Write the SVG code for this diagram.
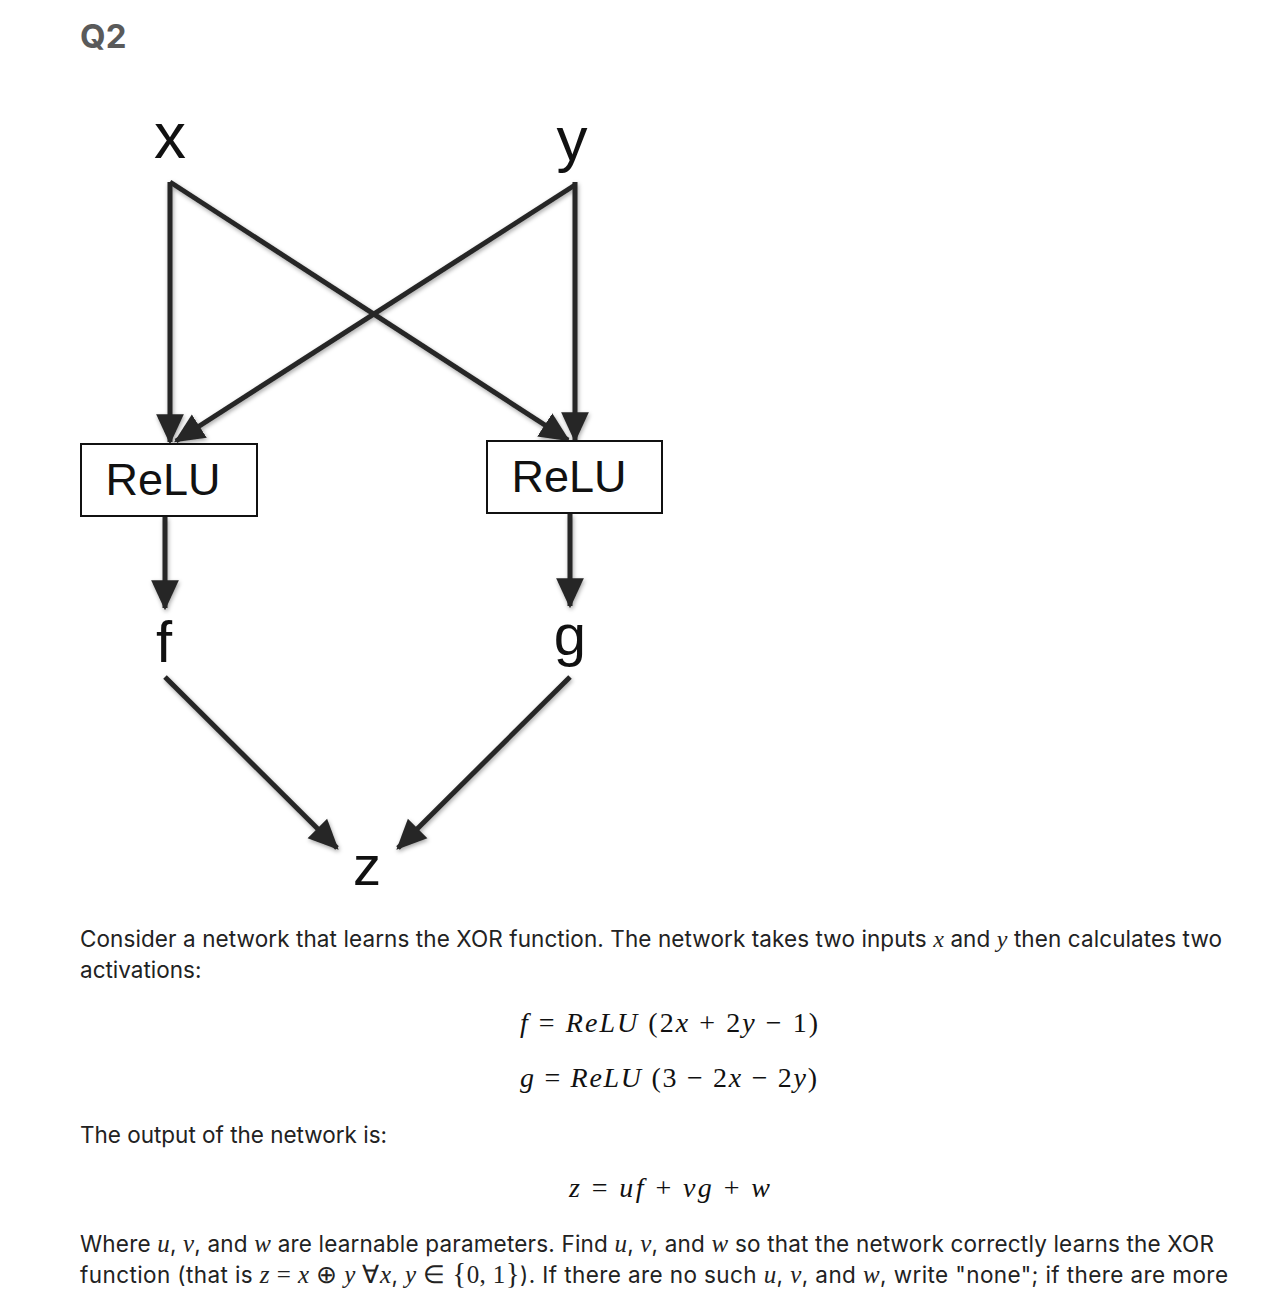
<svg xmlns="http://www.w3.org/2000/svg" width="1268" height="1292" viewBox="0 0 1268 1292">
<style>
.lbl{font-family:"Liberation Sans",Arial,sans-serif;fill:#111;text-anchor:middle}
.box{fill:#fff;stroke:#111;stroke-width:2}
.edge{stroke:#262626;stroke-width:5;fill:none}
.body{font-family:Inter,"Liberation Sans",sans-serif;font-size:22.5px;fill:#222}
.m{font-family:"Liberation Serif","Times New Roman",serif;font-style:italic}
.mr{font-family:"Liberation Serif","Times New Roman",serif;font-style:normal}
.eq{font-family:"Liberation Serif","Times New Roman",serif;font-size:28px;fill:#111}
</style>
<defs>
<marker id="ah" markerUnits="userSpaceOnUse" markerWidth="30" markerHeight="30" viewBox="0 0 26 24" refX="24" refY="12" orient="auto">
<path d="M0,0 L26,12 L0,24 Z" fill="#262626"/>
</marker>
<filter id="sh" x="-20%" y="-20%" width="140%" height="140%">
<feDropShadow dx="1" dy="2" stdDeviation="2" flood-color="#000" flood-opacity="0.35"/>
</filter>
</defs>
<rect width="1268" height="1292" fill="#fff"/>
<text x="80" y="48" font-family="Inter,'Liberation Sans',sans-serif" font-weight="700" font-size="33" fill="#5a5a5a">Q2</text>

<g id="connectors" filter="url(#sh)">
<line class="edge" x1="170" y1="182" x2="170" y2="442" marker-end="url(#ah)"/>
<line class="edge" x1="575" y1="185" x2="176" y2="441" marker-end="url(#ah)"/>
<line class="edge" x1="170" y1="182" x2="568" y2="440" marker-end="url(#ah)"/>
<line class="edge" x1="575" y1="182" x2="575" y2="440" marker-end="url(#ah)"/>
<line class="edge" x1="165" y1="517" x2="165" y2="608" marker-end="url(#ah)"/>
<line class="edge" x1="570" y1="514" x2="570" y2="606" marker-end="url(#ah)"/>
<line class="edge" x1="165" y1="677" x2="337" y2="848" marker-end="url(#ah)"/>
<line class="edge" x1="570" y1="677" x2="398" y2="848" marker-end="url(#ah)"/>
</g>

<g id="node-x"><text class="lbl" x="170" y="158" font-size="64">x</text></g>
<g id="node-y"><text class="lbl" x="572" y="160" font-size="62">y</text></g>
<g id="node-relu1"><rect class="box" x="81" y="444" width="176" height="72"/><text class="lbl" x="163" y="495" font-size="45">ReLU</text></g>
<g id="node-relu2"><rect class="box" x="487" y="441" width="175" height="72"/><text class="lbl" x="569" y="492" font-size="45">ReLU</text></g>
<g id="node-f"><text class="lbl" x="164" y="662" font-size="58">f</text></g>
<g id="node-g"><text class="lbl" x="570" y="655" font-size="58">g</text></g>
<g id="node-z"><text class="lbl" x="367" y="885" font-size="56">z</text></g>

<text class="body" x="80" y="947" textLength="1142" lengthAdjust="spacing">Consider a network that learns the XOR function. The network takes two inputs <tspan class="m" font-size="24">x</tspan> and <tspan class="m" font-size="24">y</tspan> then calculates two</text>
<text class="body" x="80" y="978">activations:</text>

<text class="eq" x="520" y="1032" textLength="298" lengthAdjust="spacing"><tspan class="m">f</tspan> = <tspan class="m">ReLU</tspan> (2<tspan class="m">x</tspan> + 2<tspan class="m">y</tspan> − 1)</text>
<text class="eq" x="520" y="1087" textLength="297" lengthAdjust="spacing"><tspan class="m">g</tspan> = <tspan class="m">ReLU</tspan> (3 − 2<tspan class="m">x</tspan> − 2<tspan class="m">y</tspan>)</text>

<text class="body" x="80" y="1143" textLength="307" lengthAdjust="spacing">The output of the network is:</text>
<text class="eq" x="569" y="1197" textLength="201" lengthAdjust="spacing"><tspan class="m">z</tspan> = <tspan class="m">uf</tspan> + <tspan class="m">vg</tspan> + <tspan class="m">w</tspan></text>

<text class="body" x="80" y="1252" textLength="1134" lengthAdjust="spacing">Where <tspan class="m" font-size="25">u</tspan>, <tspan class="m" font-size="25">v</tspan>, and <tspan class="m" font-size="25">w</tspan> are learnable parameters. Find <tspan class="m" font-size="25">u</tspan>, <tspan class="m" font-size="25">v</tspan>, and <tspan class="m" font-size="25">w</tspan> so that the network correctly learns the XOR</text>
<text class="body" x="80" y="1283" textLength="1148" lengthAdjust="spacing">function (that is <tspan class="m" font-size="25">z</tspan> <tspan class="mr" font-size="25">=</tspan> <tspan class="m" font-size="25">x</tspan> <tspan class="mr" font-size="25">⊕</tspan> <tspan class="m" font-size="25">y</tspan> <tspan class="mr" font-size="25">∀</tspan><tspan class="m" font-size="25">x</tspan>, <tspan class="m" font-size="25">y</tspan> <tspan class="mr" font-size="25">∈</tspan> <tspan class="mr" font-size="29">{</tspan><tspan class="mr" font-size="25">0, 1</tspan><tspan class="mr" font-size="29">}</tspan>). If there are no such <tspan class="m" font-size="25">u</tspan>, <tspan class="m" font-size="25">v</tspan>, and <tspan class="m" font-size="25">w</tspan>, write "none"; if there are more</text>
</svg>
